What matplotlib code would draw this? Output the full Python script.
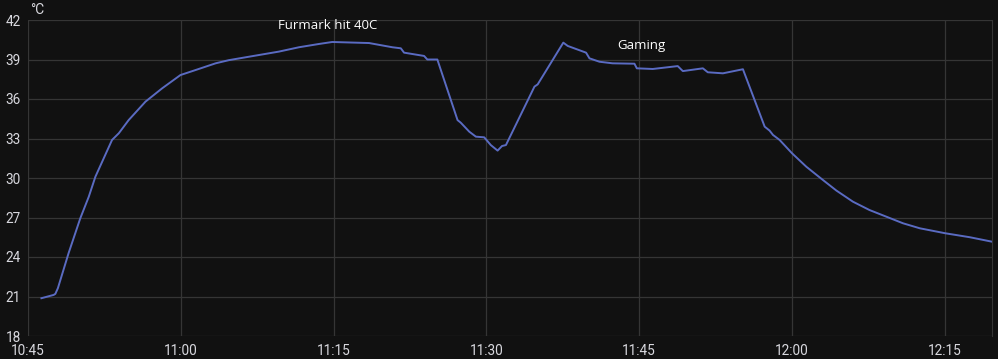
import matplotlib
matplotlib.use("Agg")
import matplotlib.pyplot as plt
import matplotlib.dates as mdates
import pandas as pd

# sensor readings
times = ["10:46:19", "10:47:31", "10:47:41", "10:47:56", "10:48:59", "10:50:08",
         "10:50:58", "10:51:37", "10:53:15", "10:53:55", "10:54:53", "10:56:32",
         "10:58:10", "10:59:58", "11:01:27", "11:03:25", "11:04:43", "11:06:41",
         "11:09:38", "11:11:36", "11:13:34", "11:14:52", "11:18:29", "11:20:46",
         "11:21:36", "11:21:55", "11:23:53", "11:24:12", "11:25:11", "11:27:10",
         "11:27:29", "11:28:19", "11:28:58", "11:29:47", "11:30:26", "11:31:06",
         "11:31:32", "11:31:55", "11:34:43", "11:35:02", "11:37:33", "11:37:59",
         "11:39:47", "11:40:07", "11:41:06", "11:42:23", "11:44:32", "11:44:46",
         "11:46:20", "11:48:47", "11:49:17", "11:51:15", "11:51:44", "11:53:13",
         "11:55:11", "11:57:19", "11:57:48", "11:58:08", "11:58:47", "12:00:00",
         "12:01:24", "12:03:02", "12:04:21", "12:05:59", "12:07:36", "12:09:16",
         "12:10:54", "12:12:33", "12:15:04", "12:17:28", "12:19:35"]
temps = [20.87, 21.12, 21.2, 21.63, 24.29, 26.94,
         28.58, 30.1, 32.89, 33.4, 34.4, 35.8,
         36.81, 37.82, 38.2, 38.71, 38.95, 39.21,
         39.6, 39.93, 40.18, 40.33, 40.25, 39.93,
         39.85, 39.52, 39.27, 39.0, 39.0, 34.4,
         34.2, 33.52, 33.14, 33.09, 32.5, 32.08,
         32.43, 32.5, 36.94, 37.11, 40.28, 40.03,
         39.52, 39.09, 38.83, 38.71, 38.68, 38.33,
         38.28, 38.5, 38.12, 38.33, 38.03, 37.95,
         38.26, 33.9, 33.6, 33.27, 32.89, 31.88,
         30.86, 29.85, 29.05, 28.2, 27.57, 27.06,
         26.56, 26.18, 25.8, 25.5, 25.17]

yticks = [18, 21, 24, 27, 30, 33, 36, 39, 42]
x_start, x_end = "10:45:00", "12:19:38"
notes = [("Furmark hit 40C", "11:14:27", 41.62), ("Gaming", "11:45:12", 40.1)]

day = "2020-01-01 "
t = pd.to_datetime([day + s for s in times])

bg = "#111111"
fig = plt.figure(figsize=(9.98, 3.59), dpi=100, facecolor=bg)
ax = fig.add_axes([28 / 998, 23 / 359, 964 / 998, 316 / 359], facecolor=bg)

ax.plot(t, temps, color="#5a6bc2", lw=1.4)

ax.set_xlim(pd.Timestamp(day + x_start), pd.Timestamp(day + x_end))
ax.set_ylim(18, 42)
ax.set_yticks(yticks)
ax.xaxis.set_major_locator(mdates.MinuteLocator(byminute=[0, 15, 30, 45]))
ax.xaxis.set_major_formatter(mdates.DateFormatter("%H:%M"))

ax.grid(True, color="#353535", lw=0.9)
ax.tick_params(length=0, colors="#d8d8de", labelsize=9.8, pad=6)
ax.tick_params(axis="y", pad=5)
for name, sp in ax.spines.items():
    sp.set_visible(name == "right")
    sp.set_color("#353535")
for lab in ax.get_xticklabels() + ax.get_yticklabels():
    lab.set_fontfamily("Roboto")

ax.text(0.002, 1.008, "°C", transform=ax.transAxes, color="#d8d8de",
        fontsize=10, family="Roboto", va="bottom", ha="left")

for txt, when, y in notes:
    ax.text(pd.Timestamp(day + when), y, txt, color="white", fontsize=9.5,
            family="Open Sans", ha="center", va="center")

fig.savefig("out.png", dpi=100, facecolor=bg)
